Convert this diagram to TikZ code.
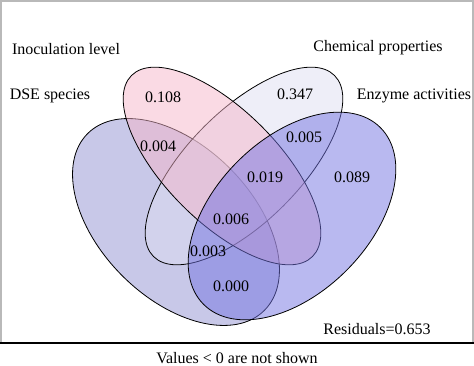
\documentclass[tikz,border=0pt]{standalone}
\usepackage{fontspec}
\setmainfont{Liberation Serif}
\usetikzlibrary{positioning}
\definecolor{dseblue}{RGB}{145,145,209}
\definecolor{inocpink}{RGB}{245,181,201}
\definecolor{chemgray}{RGB}{221,221,241}
\definecolor{enzblue}{RGB}{115,115,225}
\definecolor{framegray}{RGB}{185,185,185}
\tikzset{
  set/.style={fill=#1,fill opacity=0.5,draw=black,line width=0.8pt},
  set/.default=dseblue,
  val/.style={font=\fontsize{16}{19}\selectfont,anchor=base,inner sep=0pt},
  tag/.style={font=\fontsize{16}{19}\selectfont,anchor=base,inner sep=0pt},
}
\begin{document}
\begin{tikzpicture}[x=1pt,y=1pt]
  \useasboundingbox (0,0) rectangle (474,366);
  % panel frame
  \draw[framegray,line width=2pt] (1,23) -- (1,365) -- (473,365) -- (473,23);
  \draw[black,line width=2pt] (0,23) -- (474,23);
  % the four sets
  \draw[set=dseblue,rotate around={-45:(176,144)}] (176,144) ellipse [x radius=125,y radius=76];
  \draw[set=chemgray,rotate around={45:(244,200)}] (244,200) ellipse [x radius=128,y radius=56];
  \draw[set=inocpink,rotate around={-45:(222,200)}] (222,200) ellipse [x radius=128,y radius=56];
  \draw[set=enzblue,rotate around={45:(292,150)}] (292,150) ellipse [x radius=125,y radius=77];
  % set names
  \node[tag] (inoc) at (66,311) {Inoculation level};
  \node[tag] (dse) at (50,266) {DSE species};
  \node[tag] (chem) at (378,314) {Chemical properties};
  \node[tag] (enz) at (414,266) {Enzyme activities};
  % fractions
  \node[val] (a) at (163,263) {0.108};
  \node[val] (b) at (158,214) {0.004};
  \node[val] (c) at (295,266) {0.347};
  \node[val] (d) at (304,223) {0.005};
  \node[val] (e) at (265,183) {0.019};
  \node[val] (f) at (352,183) {0.089};
  \node[val] (g) at (231,141) {0.006};
  \node[val] (h) at (208,109) {0.003};
  \node[val] (i) at (231,74) {0.000};
  \node[tag] (resid) at (377,31) {Residuals=0.653};
  \node[tag] (note) at (237,2) {Values < 0 are not shown};
\end{tikzpicture}
\end{document}
